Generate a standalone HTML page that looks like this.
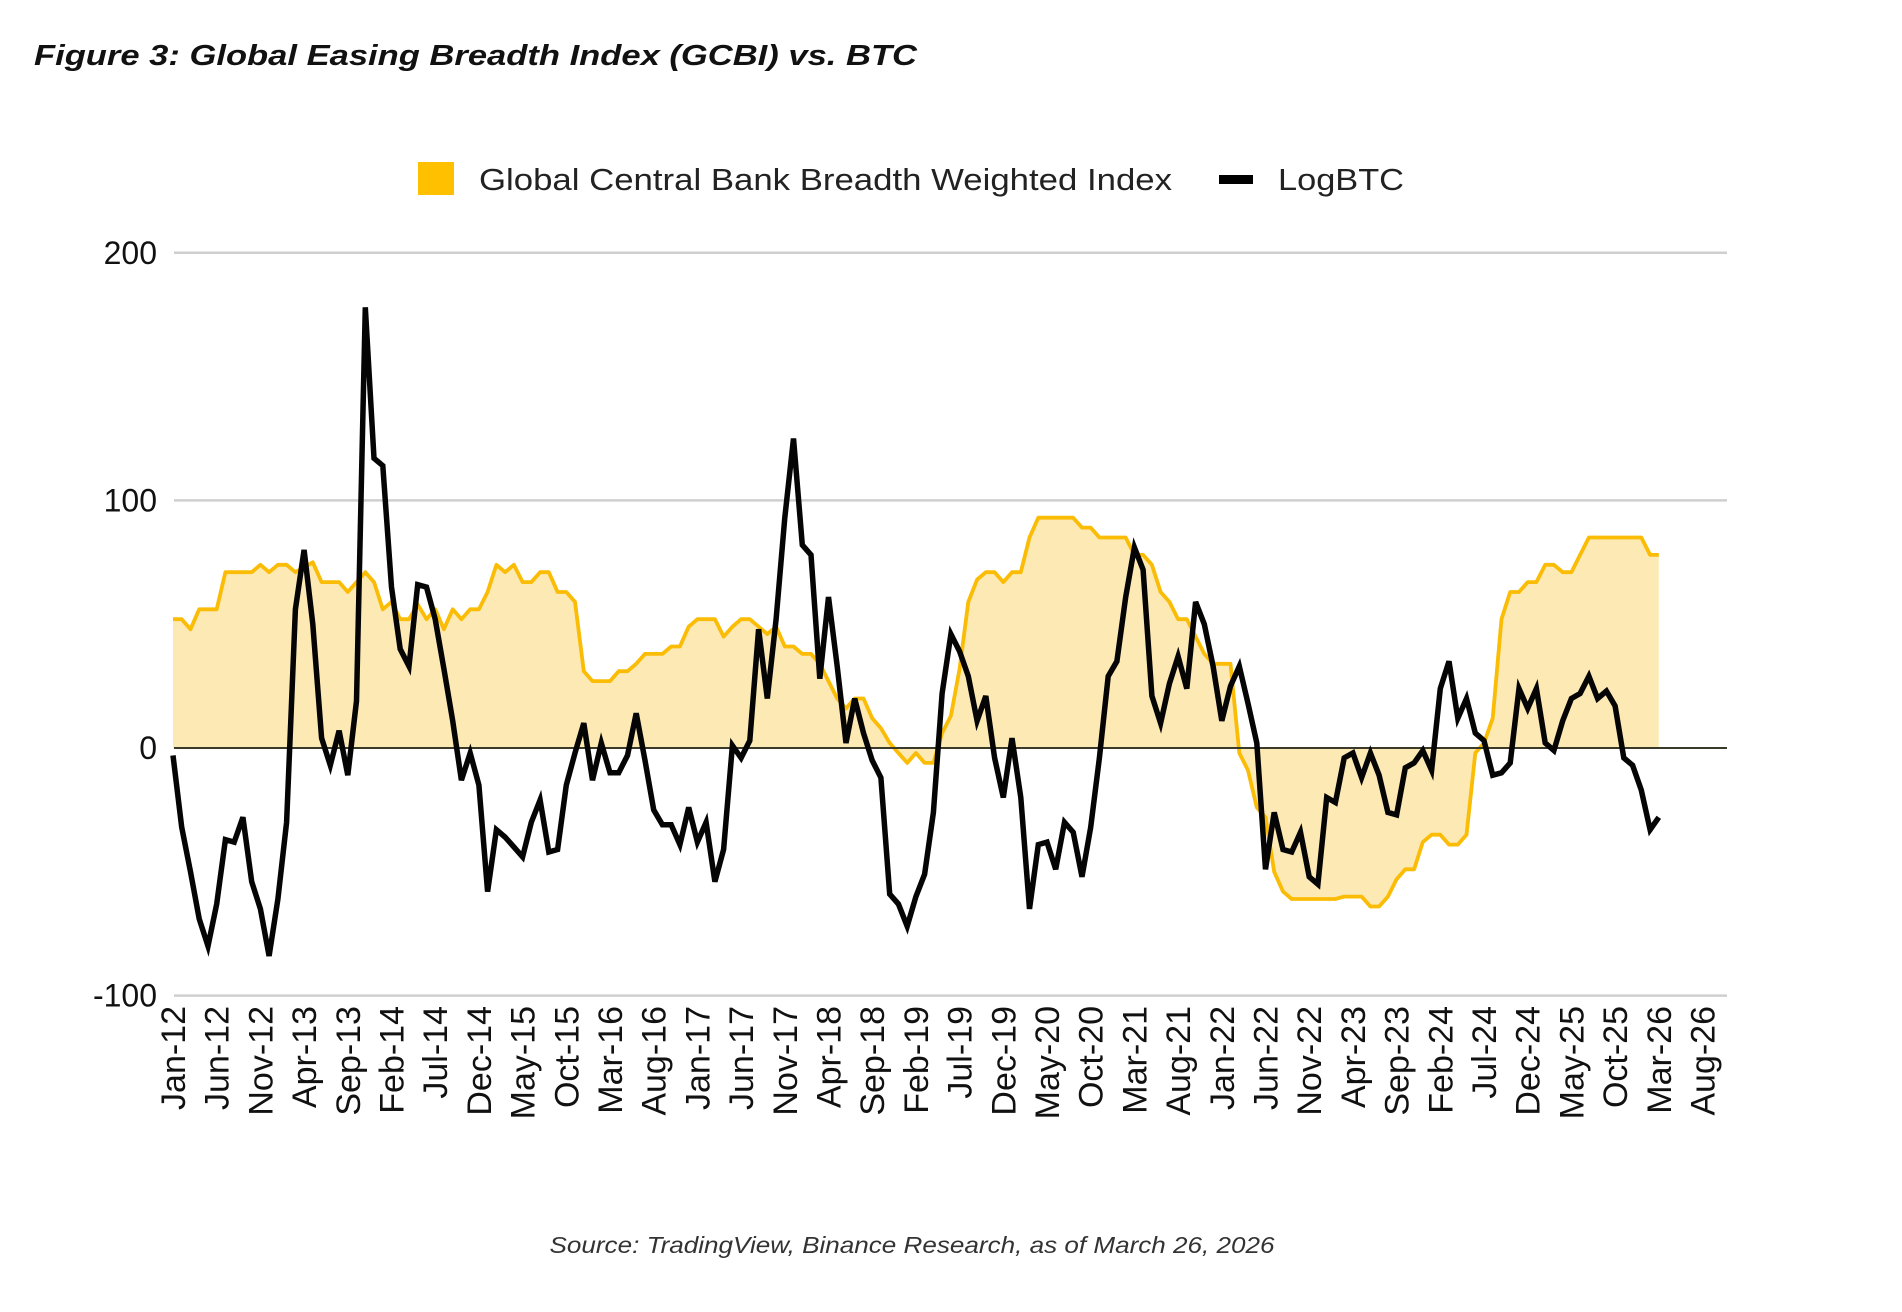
<!DOCTYPE html>
<html><head><meta charset="utf-8">
<style>
html,body{margin:0;padding:0;background:#fff;}
svg{display:block;font-family:"Liberation Sans",sans-serif;}
</style></head>
<body>
<svg id="chart" width="1902" height="1312" viewBox="0 0 1902 1312" xmlns="http://www.w3.org/2000/svg">
<text x="34" y="65" font-size="29" font-weight="bold" font-style="italic" fill="#111" textLength="883" lengthAdjust="spacingAndGlyphs">Figure 3: Global Easing Breadth Index (GCBI) vs. BTC</text>
<g>
<rect x="418" y="162" width="36" height="33" fill="#FFC000"/>
<text x="479" y="190" font-size="31" fill="#222" textLength="693" lengthAdjust="spacingAndGlyphs">Global Central Bank Breadth Weighted Index</text>
<rect x="1219" y="175" width="34" height="9" fill="#000"/>
<text x="1278" y="190" font-size="31" fill="#222" textLength="126" lengthAdjust="spacingAndGlyphs">LogBTC</text>
</g>
<g id="grid"></g>
<g id="series"></g>
<g id="axes"></g>
<text x="912" y="1253" font-size="23" font-style="italic" fill="#333" text-anchor="middle" textLength="725" lengthAdjust="spacingAndGlyphs">Source: TradingView, Binance Research, as of March 26, 2026</text>
</svg>
<script>
const xLabels = ["Jan-12","Jun-12","Nov-12","Apr-13","Sep-13","Feb-14","Jul-14","Dec-14","May-15","Oct-15","Mar-16","Aug-16","Jan-17","Jun-17","Nov-17","Apr-18","Sep-18","Feb-19","Jul-19","Dec-19","May-20","Oct-20","Mar-21","Aug-21","Jan-22","Jun-22","Nov-22","Apr-23","Sep-23","Feb-24","Jul-24","Dec-24","May-25","Oct-25","Mar-26","Aug-26"];
const yTicks = [200, 100, 0, -100];
const gcbi = [52,52,48,56,56,56,71,71,71,71,74,71,74,74,71,73,75,67,67,67,63,67,71,67,56,59,52,52,58,52,56,48,56,52,56,56,63,74,71,74,67,67,71,71,63,63,
59,31,27,27,27,31,31,34,38,38,38,41,41,49,52,52,52,45,49,52,52,49,46,49,41,41,38,38,34,27,20,16,20,20,12,8,2,-2,-6,-2,-6,-6,6,13,32,
59,68,71,71,67,71,71,85,93,93,93,93,93,89,89,85,85,85,85,78,78,74,63,59,52,52,45,38,34,34,34,-2,-9,-24,-28,-50,-58,-61,-61,-61,-61,-61,-61,
-60,-60,-60,-64,-64,-60,-53,-49,-49,-38,-35,-35,-39,-39,-35,-2,2,12,52,63,63,67,67,74,74,71,71,78,85,85,85,85,85,85,85,78,78];
const btc = [-3,-32,-50,-69,-80,-63,-37,-38,-28,-54,-65,-84,-61,-30,56,80,50,4,-7,7,-11,19,178,117,114,65,40,33,66,65,52,32,11,-13,-2,-15,-58,-33,-36,-40,-44,-30,-21,-42,-41,-15,
-2,10,-13,2,-10,-10,-3,14,-5,-25,-31,-31,-39,-24,-38,-30,-54,-41,1,-4,3,48,20,52,93,125,82,78,28,61,33,2,20,6,-5,-12,-59,-63,-72,-60,-51,-26,22,46,39,
29,11,21,-4,-20,4,-20,-65,-39,-38,-49,-30,-34,-52,-32,-4,29,35,61,81,72,21,10,26,37,24,59,50,33,11,25,33,18,2,-49,-26,-41,-42,-34,-52,-55,-20,-22,-4,
-2,-12,-2,-11,-26,-27,-8,-6,-1,-9,24,35,12,20,6,3,-11,-10,-6,24,16,24,2,-1,11,20,22,29,20,23,17,-4,-7,-17,-33,-28];

const NS = "http://www.w3.org/2000/svg";
const X0 = 173, DX = 8.74, Y0 = 748, PER = 2.476, XL = 174, XR = 1727;
const xS = m => X0 + m * DX;
const yS = v => Y0 - v * PER;
function mk(tag, attrs, parent){const e=document.createElementNS(NS,tag);for(const k in attrs)e.setAttribute(k,attrs[k]);parent.appendChild(e);return e;}
const grid=document.getElementById('grid'), series=document.getElementById('series'), axes=document.getElementById('axes');

yTicks.forEach(t=>{
  if(t!==0){
    const l=mk('line',{x1:XL,x2:XR,y1:yS(t),y2:yS(t),stroke:'#cfcfcf','stroke-width':2.5},grid);
    
    
  }
  const tx=mk('text',{x:157,y:yS(t)+11,'font-size':32,'text-anchor':'end',fill:'#111'},axes);
  tx.textContent=String(t);
  
  
});

let d='M'+xS(0)+','+yS(0);
gcbi.forEach((v,i)=>{d+=' L'+xS(i).toFixed(1)+','+yS(v).toFixed(1);});
d+=' L'+xS(gcbi.length-1).toFixed(1)+','+yS(0)+' Z';
const area=mk('path',{d:d,fill:'#FDE9B4',stroke:'none'},series);



const gl=mk('polyline',{points:gcbi.map((v,i)=>xS(i).toFixed(1)+','+yS(v).toFixed(1)).join(' '),fill:'none',stroke:'#FBBC05','stroke-width':3.8,'stroke-linejoin':'round'},series);



const zl=mk('line',{x1:XL,x2:XR,y1:yS(0),y2:yS(0),stroke:'#3a3a2a','stroke-width':2},series);



const bl=mk('polyline',{points:btc.map((v,i)=>xS(i).toFixed(1)+','+yS(v).toFixed(1)).join(' '),fill:'none',stroke:'#050505','stroke-width':5.5,'stroke-linejoin':'miter','stroke-miterlimit':4},series);



xLabels.forEach((lab,i)=>{
  const cx=xS(i*5)+12, cy=1006;
  const tx=mk('text',{x:cx,y:cy,'font-size':34,'text-anchor':'end',fill:'#111',transform:'rotate(-90 '+cx+' '+cy+')'},axes);
  tx.textContent=lab;
  
  
});
</script>
</body></html>
